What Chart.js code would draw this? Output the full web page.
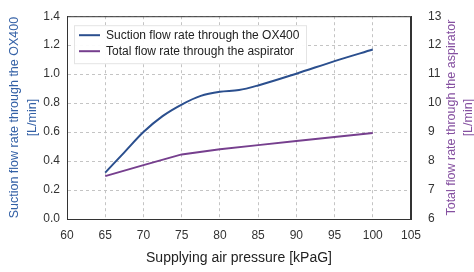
<!DOCTYPE html>
<html>
<head>
<meta charset="utf-8">
<script src="https://cdn.jsdelivr.net/npm/chart.js@4.4.1/dist/chart.umd.min.js"></script>
<style>
  html, body { margin: 0; padding: 0; background: #fff; }
  #wrap { width: 474px; height: 272px; position: relative; }
</style>
</head>
<body>
<div id="wrap"><canvas id="flowChart" width="474" height="272"></canvas></div>
<script>
// Values
const suctionPressure = [65, 67.5, 70, 72.5, 75, 77.5, 80, 82.5, 85, 90, 95, 100];
const suctionFlow = [0.32, 0.46, 0.60, 0.71, 0.79, 0.85, 0.878, 0.89, 0.922, 1.003, 1.09, 1.17];
const totalPressure = [65, 70, 75, 80, 85, 90, 95, 100];
const totalFlow = [7.48, 7.86, 8.23, 8.41, 8.55, 8.69, 8.83, 8.97];

const xTicks = [60, 65, 70, 75, 80, 85, 90, 95, 100, 105];
const leftTicks = [0, 0.2, 0.4, 0.6, 0.8, 1.0, 1.2, 1.4];
const rightTicks = [6, 7, 8, 9, 10, 11, 12, 13];

const seriesLabels = ['Suction flow rate through the OX400', 'Total flow rate through the aspirator'];
const xTitle = 'Supplying air pressure [kPaG]';
const leftTitle = ['Suction flow rate through the OX400', '[L/min]'];
const rightTitle = ['Total flow rate through the aspirator', '[L/min]'];

const BLUE = '#2b4f8e';
const PURPLE = '#763f8e';
const BLUE_TEXT = '#3461a6';
const PURPLE_TEXT = '#8550a0';
const FONT = '"Liberation Sans", Arial, sans-serif';

// Axis titles (right one reads bottom-to-top), legend box and plot frame
const decorations = {
  id: 'decorations',
  afterDraw(chart) {
    const ctx = chart.ctx;
    const area = chart.chartArea;
    const midY = (area.top + area.bottom) / 2;
    ctx.save();

    // frame round the plot
    ctx.strokeStyle = '#333';
    ctx.lineWidth = 1;
    ctx.setLineDash([]);
    ctx.strokeRect(area.left + 0.5, area.top + 0.5, area.right - area.left - 1, area.bottom - area.top);

    // rotated axis titles
    const drawVertical = (lines, xs, color) => {
      ctx.fillStyle = color;
      ctx.font = '12.5px ' + FONT;
      ctx.textAlign = 'center';
      ctx.textBaseline = 'middle';
      lines.forEach((line, i) => {
        ctx.save();
        ctx.translate(xs[i], midY);
        ctx.rotate(-Math.PI / 2);
        ctx.fillText(line, 0, 0);
        ctx.restore();
      });
    };
    drawVertical(leftTitle, [15, 33], BLUE_TEXT);
    drawVertical(rightTitle, [452, 469], PURPLE_TEXT);

    // x title
    ctx.fillStyle = '#222';
    ctx.font = '14px ' + FONT;
    ctx.textAlign = 'center';
    ctx.textBaseline = 'middle';
    ctx.fillText(xTitle, (area.left + area.right) / 2, 258);

    // legend inside the plot
    const lx = area.left + 7, ly = area.top + 9;
    ctx.fillStyle = 'rgba(255,255,255,0.95)';
    ctx.fillRect(lx, ly, 232, 38);
    ctx.strokeStyle = '#e4e4e4';
    ctx.strokeRect(lx + 0.5, ly + 0.5, 232, 38);
    ctx.font = '12px ' + FONT;
    ctx.textAlign = 'left';
    chart.data.datasets.forEach((ds, i) => {
      const y = ly + 10 + i * 16;
      ctx.strokeStyle = ds.borderColor;
      ctx.lineWidth = 2;
      ctx.beginPath();
      ctx.moveTo(lx + 5, y);
      ctx.lineTo(lx + 26, y);
      ctx.stroke();
      ctx.fillStyle = '#222';
      ctx.fillText(ds.label, lx + 32, y);
    });
    ctx.restore();
  }
};

const gridStyle = { color: '#c4c4c4', lineWidth: 1, drawTicks: false };
const tickFont = { family: FONT, size: 12 };

new Chart(document.getElementById('flowChart'), {
  type: 'line',
  data: {
    datasets: [
      {
        label: seriesLabels[0],
        data: suctionPressure.map((p, i) => ({ x: p, y: suctionFlow[i] })),
        borderColor: BLUE,
        borderWidth: 2,
        pointRadius: 0,
        cubicInterpolationMode: 'monotone',
        yAxisID: 'y'
      },
      {
        label: seriesLabels[1],
        data: totalPressure.map((p, i) => ({ x: p, y: totalFlow[i] })),
        borderColor: PURPLE,
        borderWidth: 2,
        pointRadius: 0,
        tension: 0,
        yAxisID: 'y2'
      }
    ]
  },
  options: {
    responsive: false,
    animation: false,
    layout: { padding: { top: 16, left: 0, right: 0, bottom: 0 } },
    plugins: { legend: { display: false }, tooltip: { enabled: false } },
    scales: {
      x: {
        type: 'linear',
        min: 60, max: 105,
        afterBuildTicks: (s) => { s.ticks = xTicks.map(v => ({ value: v })); },
        afterFit: (s) => { s.height = 53; },
        grid: gridStyle,
        border: { display: true, color: '#333', dash: [3, 3] },
        ticks: { color: '#333', font: tickFont, padding: 9 }
      },
      y: {
        position: 'left',
        min: 0, max: 1.4,
        afterBuildTicks: (s) => { s.ticks = leftTicks.map(v => ({ value: v })); },
        afterFit: (s) => { s.width = 67; },
        grid: gridStyle,
        border: { display: true, color: '#333', dash: [3, 3] },
        ticks: { color: '#333', font: tickFont, padding: 7, callback: v => v.toFixed(1) }
      },
      y2: {
        position: 'right',
        min: 6, max: 13,
        afterBuildTicks: (s) => { s.ticks = rightTicks.map(v => ({ value: v })); },
        afterFit: (s) => { s.width = 63; },
        grid: { display: false },
        border: { display: true, color: '#333' },
        ticks: { color: '#333', font: tickFont, padding: 9 }
      }
    }
  },
  plugins: [decorations]
});
</script>
</body>
</html>
